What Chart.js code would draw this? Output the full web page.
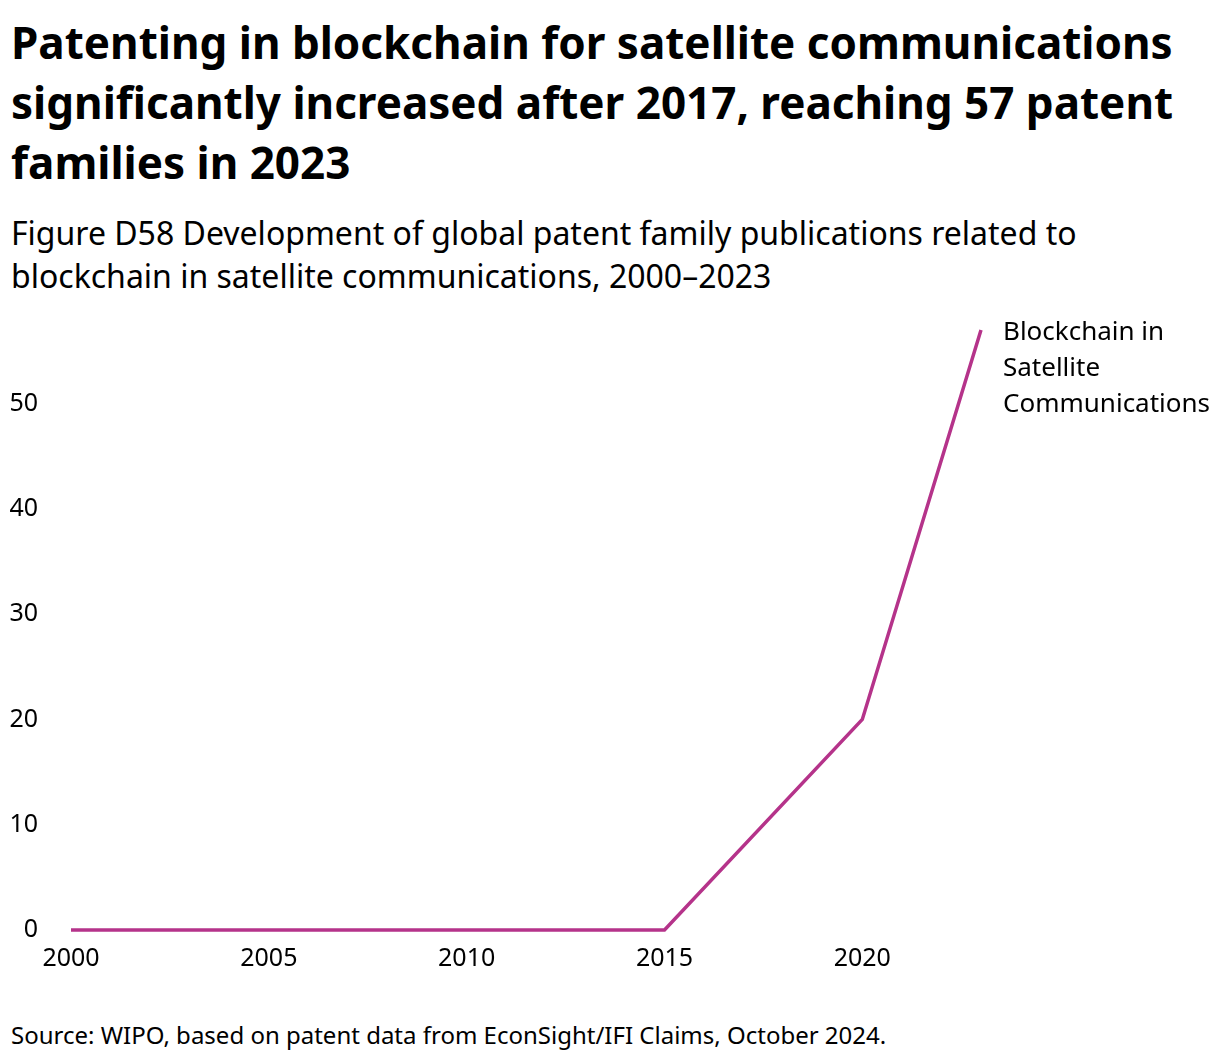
<!DOCTYPE html>
<html>
<head>
<meta charset="utf-8">
<script src="https://cdn.jsdelivr.net/npm/chart.js@4"></script>
<style>
  body { margin: 0; background: #fff; font-family: "Noto Sans", sans-serif; color: #000; }
  #title { position: absolute; left: 11px; top: 12px; font-size: 44px; font-weight: 700; line-height: 60px; margin: 0; }
  #subtitle { position: absolute; left: 11px; top: 211px; font-size: 32px; line-height: 43px; margin: 0; }
  #source { position: absolute; left: 11px; top: 1018px; font-size: 24px; margin: 0; }
  #wrap { position: absolute; left: 0; top: 300px; width: 1220px; height: 700px; }
</style>
</head>
<body>
<h1 id="title">Patenting in blockchain for satellite communications<br>significantly increased after 2017, reaching 57 patent<br>families in 2023</h1>
<p id="subtitle">Figure D58 Development of global patent family publications related to<br>blockchain in satellite communications, 2000–2023</p>
<div id="wrap"><canvas id="chart"></canvas></div>
<p id="source">Source: WIPO, based on patent data from EconSight/IFI Claims, October 2024.</p>
<script>
const years = [2000, 2005, 2010, 2015, 2020, 2023];
const families = [0, 0, 0, 0, 20, 57];
const seriesName = ["Blockchain in", "Satellite", "Communications"];
const xTicks = [2000, 2005, 2010, 2015, 2020];
const yTicks = [0, 10, 20, 30, 40, 50];

const lineColor = "#b5338a";

// series name written next to the last point instead of a legend
const endLabel = {
  id: "endLabel",
  afterDatasetsDraw(chart) {
    const meta = chart.getDatasetMeta(0);
    const last = meta.data[meta.data.length - 1];
    const c = chart.ctx;
    c.save();
    c.font = '26px "Noto Sans"';
    c.fillStyle = "#000";
    c.textBaseline = "middle";
    seriesName.forEach((t, i) => {
      c.fillText(t, last.x + 22, last.y + 3 + i * 36);
    });
    c.restore();
  },
};

new Chart(document.getElementById("chart"), {
  type: "line",
  data: {
    datasets: [
      {
        label: seriesName.join(" "),
        data: years.map((y, i) => ({ x: y, y: families[i] })),
        borderColor: lineColor,
        borderWidth: 3.5,
        pointRadius: 0,
        tension: 0,
        clip: false,
      },
    ],
  },
  options: {
    responsive: true,
    maintainAspectRatio: false,
    animation: false,
    layout: { padding: { top: 30, right: 239, bottom: 0, left: 0 } },
    plugins: { legend: { display: false }, tooltip: { enabled: false } },
    scales: {
      x: {
        type: "linear",
        min: 2000,
        max: 2023,
        grid: { display: false, drawTicks: false },
        border: { display: false },
        afterBuildTicks: (axis) => { axis.ticks = xTicks.map((v) => ({ value: v })); },
        afterFit: (axis) => { axis.height = 70; },
        ticks: {
          padding: 14,
          maxRotation: 0,
          color: "#000",
          font: { family: "Noto Sans", size: 25 },
          callback: (v) => String(v),
        },
      },
      y: {
        min: 0,
        max: 57,
        grid: { display: false, drawTicks: false },
        border: { display: false },
        afterBuildTicks: (axis) => { axis.ticks = yTicks.map((v) => ({ value: v })); },
        afterFit: (axis) => {
          axis.width = 71;
          axis.paddingTop = 0;
          axis.paddingBottom = 0;
        },
        ticks: {
          padding: 33,
          color: "#000",
          font: { family: "Noto Sans", size: 25 },
        },
      },
    },
  },
  plugins: [endLabel],
});
</script>
</body>
</html>
